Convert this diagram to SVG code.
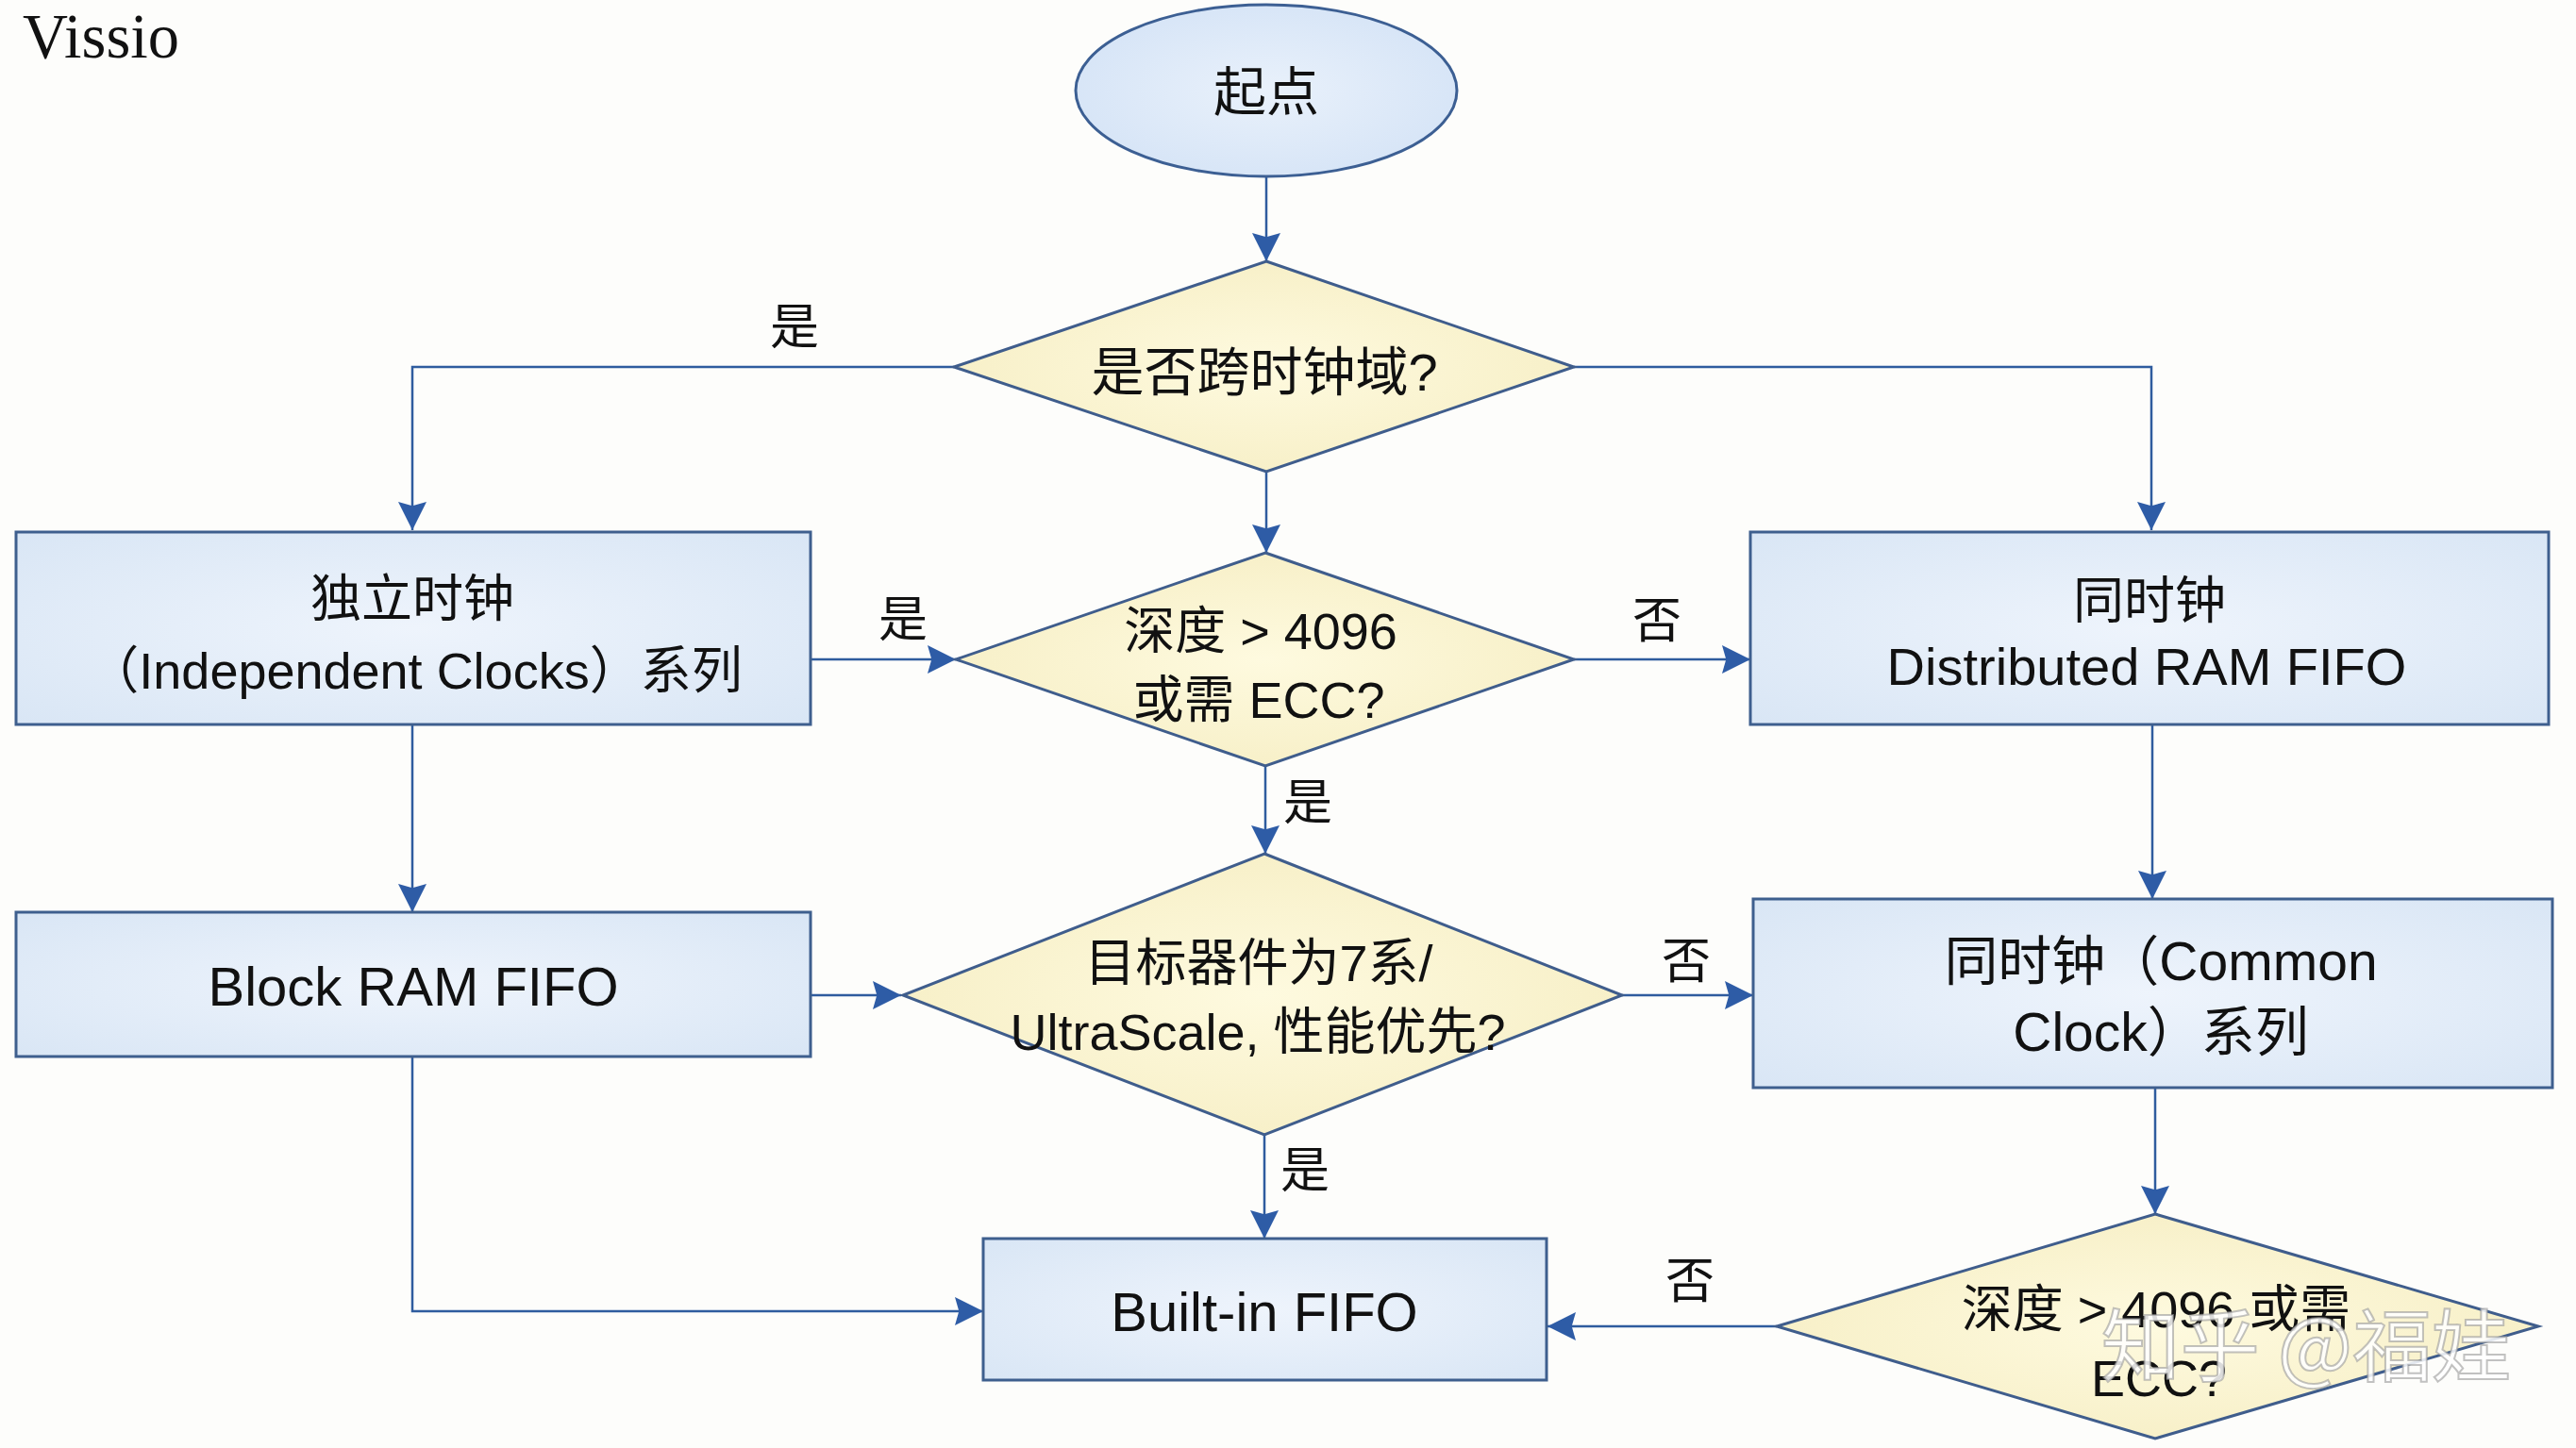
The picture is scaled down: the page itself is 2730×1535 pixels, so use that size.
<svg xmlns="http://www.w3.org/2000/svg" width="2730" height="1535" viewBox="0 0 2730 1535">
<defs>
<radialGradient id="gBox" cx="50%" cy="50%" r="70%">
<stop offset="0%" stop-color="#eef4fc"/>
<stop offset="100%" stop-color="#d9e6f5"/>
</radialGradient>
<radialGradient id="gDia" cx="50%" cy="50%" r="60%">
<stop offset="0%" stop-color="#fefadf"/>
<stop offset="100%" stop-color="#f6eec4"/>
</radialGradient>
<radialGradient id="gEll" cx="50%" cy="50%" r="60%">
<stop offset="0%" stop-color="#e9f1fb"/>
<stop offset="100%" stop-color="#d4e3f6"/>
</radialGradient>
<marker id="arr" markerUnits="userSpaceOnUse" markerWidth="30" markerHeight="30" viewBox="0 0 28 28" refX="28" refY="14" orient="auto">
<path d="M0,0 L28,14 L0,28 L4,14 z" fill="#2e5ca6"/>
</marker>
</defs>
<style>
.box{fill:url(#gBox);stroke:#3e5f8e;stroke-width:3}
.dia{fill:url(#gDia);stroke:#3f5d8c;stroke-width:3}
.ell{fill:url(#gEll);stroke:#3c5f93;stroke-width:3}
.con{fill:none;stroke:#2f5c9e;stroke-width:2.5;marker-end:url(#arr)}
.t{font-family:"Liberation Sans","Noto Sans CJK SC",sans-serif;fill:#111;text-anchor:middle}
.lbl{font-family:"Noto Sans CJK SC",sans-serif;font-size:52px;fill:#111;text-anchor:middle}
</style>
<rect width="2730" height="1535" fill="#fdfdfb"/>
<text x="24" y="61" font-family="Liberation Serif,serif" font-size="68" fill="#111" textLength="166" lengthAdjust="spacingAndGlyphs">Vissio</text>

<g id="connectors">
<path class="con" d="M1342,187 V277"/>
<path class="con" d="M1011,389 H437 V562"/>
<path class="con" d="M1668,389 H2280 V562"/>
<path class="con" d="M1342,500 V586"/>
<path class="con" d="M859,699 H1013"/>
<path class="con" d="M1668,699 H1855"/>
<path class="con" d="M1341,812 V905"/>
<path class="con" d="M437,768 V967"/>
<path class="con" d="M2281,768 V953"/>
<path class="con" d="M859,1055 H955"/>
<path class="con" d="M1719,1055 H1858"/>
<path class="con" d="M1340,1203 V1313"/>
<path class="con" d="M437,1120 V1390 H1042"/>
<path class="con" d="M2284,1153 V1287"/>
<path class="con" d="M1883,1406 H1640"/>
</g>

<g id="labels">
<text class="lbl" x="842" y="365">是</text>
<text class="lbl" x="957" y="675">是</text>
<text class="lbl" x="1756" y="676">否</text>
<text class="lbl" x="1386" y="869">是</text>
<text class="lbl" x="1787" y="1037">否</text>
<text class="lbl" x="1383" y="1259">是</text>
<text class="lbl" x="1791" y="1376">否</text>
</g>

<g id="start">
<ellipse class="ell" cx="1342" cy="96" rx="202" ry="91"/>
<text class="t" x="1342" y="117" font-size="56">起点</text>
</g>

<g id="d1">
<polygon class="dia" points="1342,277 1668,389 1342,500 1011,389"/>
<text class="t" x="1340" y="414" font-size="56">是否跨时钟域?</text>
</g>

<g id="b1">
<rect class="box" x="17" y="564" width="842" height="204"/>
<text class="t" x="437" y="654" font-size="54">独立时钟</text>
<text class="t" x="440" y="730" font-size="54">（Independent Clocks）系列</text>
</g>

<g id="d2">
<polygon class="dia" points="1341,586 1668,699 1341,812 1013,699"/>
<text class="t" x="1336" y="688" font-size="54">深度 &gt; 4096</text>
<text class="t" x="1334" y="761" font-size="54">或需 ECC?</text>
</g>

<g id="b2">
<rect class="box" x="1855" y="564" width="846" height="204"/>
<text class="t" x="2278" y="656" font-size="54">同时钟</text>
<text class="t" x="2275" y="726" font-size="56">Distributed RAM FIFO</text>
</g>

<g id="b3">
<rect class="box" x="17" y="967" width="842" height="153"/>
<text class="t" x="438" y="1066" font-size="58">Block RAM FIFO</text>
</g>

<g id="d3">
<polygon class="dia" points="1340,905 1719,1055 1340,1203 957,1055"/>
<text class="t" x="1334" y="1040" font-size="54">目标器件为7系/</text>
<text class="t" x="1333" y="1113" font-size="54">UltraScale, 性能优先?</text>
</g>

<g id="b4">
<rect class="box" x="1858" y="953" width="847" height="200"/>
<text class="t" x="2290" y="1039" font-size="57">同时钟（Common</text>
<text class="t" x="2290" y="1114" font-size="57">Clock）系列</text>
</g>

<g id="b5">
<rect class="box" x="1042" y="1313" width="597" height="150"/>
<text class="t" x="1340" y="1411" font-size="58">Built-in FIFO</text>
</g>

<g id="d4">
<polygon class="dia" points="2284,1287 2690,1406 2284,1525 1883,1406"/>
<text class="t" x="2285" y="1407" font-size="54">深度 &gt; 4096 或需</text>
<text class="t" x="2288" y="1480" font-size="54">ECC?</text>
</g>

<text x="2444" y="1458" font-family="Noto Sans CJK SC,sans-serif" font-size="84" text-anchor="middle" fill="#ffffff" fill-opacity="0.85" stroke="#9a9a9a" stroke-opacity="0.6" stroke-width="2">知乎 @福娃</text>
</svg>
